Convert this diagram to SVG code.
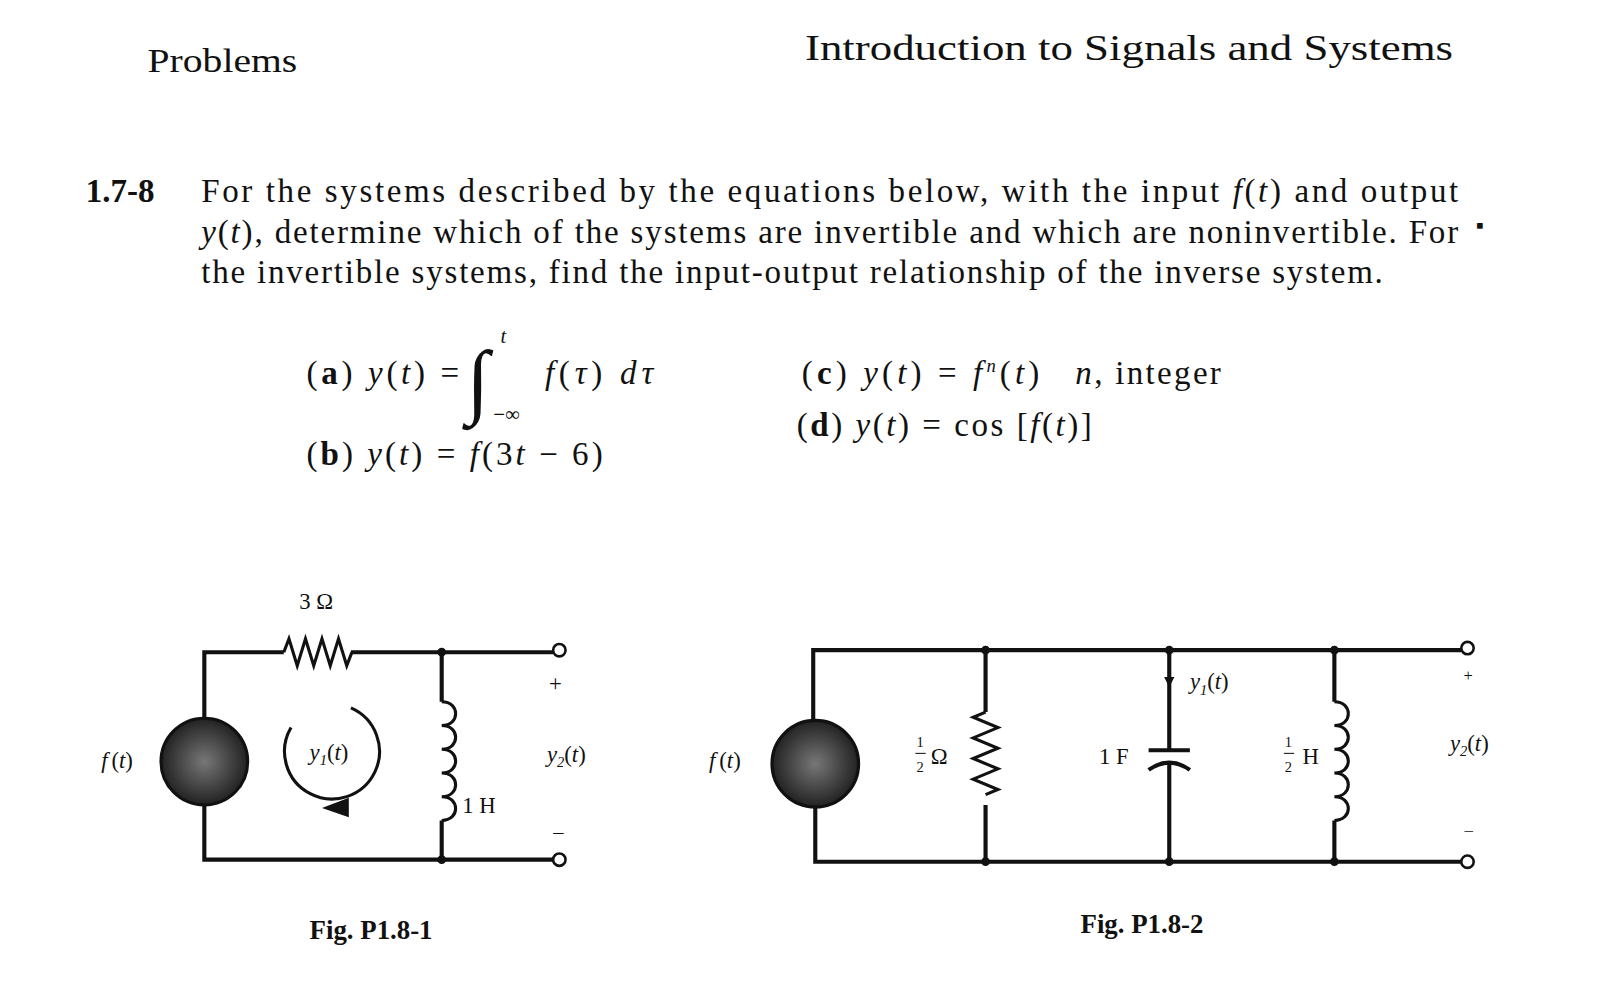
<svg xmlns="http://www.w3.org/2000/svg" width="1613" height="999" viewBox="0 0 1613 999">
<defs><style>
.t{font-family:"Liberation Serif",serif;fill:#111}
.w{stroke:#111;stroke-width:4;fill:none}
.th{stroke:#111;stroke-width:3;fill:none}
.i{font-style:italic}
.b{font-weight:bold}
</style>
<radialGradient id="g"><stop offset="0" stop-color="#777"/><stop offset="1" stop-color="#222"/></radialGradient>
</defs>
<rect width="1613" height="999" fill="#fff"/>
<g transform="scale(1.032)">
<text class="t" x="143" y="70" font-size="32" textLength="145" lengthAdjust="spacingAndGlyphs">Problems</text>
<text class="t" x="780" y="58" font-size="34" textLength="628" lengthAdjust="spacingAndGlyphs">Introduction to Signals and Systems</text>
<g class="t" font-size="32">
<text x="83" y="196" class="b">1.7-8</text>
<text x="195" y="196" textLength="1218">For the systems described by the equations below, with the input <tspan class="i">f</tspan>(<tspan class="i">t</tspan>) and output</text>
<text x="195" y="235" textLength="1218"><tspan class="i">y</tspan>(<tspan class="i">t</tspan>), determine which of the systems are invertible and which are noninvertible. For</text>
<text x="195" y="274" textLength="1145">the invertible systems, find the input-output relationship of the inverse system.</text>
<text x="1430" y="226" font-size="22">▪</text>
<text x="297" y="372" textLength="148">(<tspan class="b">a</tspan>) <tspan class="i">y</tspan>(<tspan class="i">t</tspan>) =</text>
<text x="452" y="395" font-size="80" class="i">∫</text>
<text x="485" y="332" font-size="20" class="i">t</text>
<text x="478" y="408" font-size="20">−∞</text>
<text x="528" y="372" textLength="105"><tspan class="i">f</tspan>(<tspan class="i">τ</tspan>) <tspan class="i">dτ</tspan></text>
<text x="297" y="451" textLength="287">(<tspan class="b">b</tspan>) <tspan class="i">y</tspan>(<tspan class="i">t</tspan>) = <tspan class="i">f</tspan>(3<tspan class="i">t</tspan> − 6)</text>
<text x="777" y="372" textLength="230">(<tspan class="b">c</tspan>) <tspan class="i">y</tspan>(<tspan class="i">t</tspan>) = <tspan class="i">f</tspan><tspan font-size="18" dy="-12" class="i">n</tspan><tspan dy="12">(<tspan class="i">t</tspan>)</tspan></text>
<text x="1042" y="372" textLength="141"><tspan class="i">n</tspan>, integer</text>
<text x="772" y="422" textLength="286">(<tspan class="b">d</tspan>) <tspan class="i">y</tspan>(<tspan class="i">t</tspan>) = cos [<tspan class="i">f</tspan>(<tspan class="i">t</tspan>)]</text>
</g>
<g id="conn">
<path class="w" d="M198,696V632H275M340,632H536M198,780V833H536M428,632V680M428,795V833"/>
<path class="th" d="M275,632l5,-13l8,26l8,-26l8,26l8,-26l8,26l8,-26l8,26l5,-13"/>
<path class="th" d="M428,680c18,0 18,23 0,23c18,0 18,23 0,23c18,0 18,23 0,23c18,0 18,23 0,23c18,0 18,23 0,23"/>
<path class="th" d="M282,705A46,46 0 1 0 340,686"/>
<path d="M312,783l26,-10v19z" fill="#111"/>
<path class="w" d="M788,700V630H1416M790,782V835H1416M955,630V690M955,780V835M1133,630V727M1133,738V835M1293,630V680M1293,795V835"/>
<path class="th" d="M955,690l-12,5l24,10l-24,10l24,10l-24,10l24,10l-24,10l24,10l-12,5"/>
<path class="w" d="M1113,727H1153M1113,746Q1133,732 1153,746"/>
<path class="th" d="M1293,680c18,0 18,23 0,23c18,0 18,23 0,23c18,0 18,23 0,23c18,0 18,23 0,23c18,0 18,23 0,23"/>
<path d="M1128,656h10l-5,10z" fill="#111"/>
</g>
<g id="src1"><circle cx="198" cy="738" r="42" fill="url(#g)" stroke="#111" stroke-width="3"/></g>
<g id="src2"><circle cx="790" cy="740" r="42" fill="url(#g)" stroke="#111" stroke-width="3"/></g>
<g id="terms" fill="#fff" stroke="#111" stroke-width="2.5">
<circle cx="542" cy="630" r="6"/><circle cx="542" cy="833" r="6"/>
<circle cx="1422" cy="628" r="6"/><circle cx="1422" cy="835" r="6"/>
<circle cx="428" cy="632" r="3" fill="#111"/><circle cx="428" cy="833" r="3" fill="#111"/>
<circle cx="955" cy="630" r="3" fill="#111"/><circle cx="1133" cy="630" r="3" fill="#111"/><circle cx="1293" cy="630" r="3" fill="#111"/>
<circle cx="955" cy="835" r="3" fill="#111"/><circle cx="1133" cy="835" r="3" fill="#111"/><circle cx="1293" cy="835" r="3" fill="#111"/>
</g>
<g class="t" font-size="22">
<text x="290" y="590">3 Ω</text>
<text x="98" y="744" class="i">f</text><text x="108" y="744">(<tspan class="i">t</tspan>)</text>
<text x="300" y="736" class="i">y<tspan font-size="14" dy="5">1</tspan><tspan dy="-5" font-style="normal">(<tspan class="i">t</tspan>)</tspan></text>
<text x="448" y="788">1 H</text>
<text x="532" y="670">+</text>
<text x="530" y="738" class="i">y<tspan font-size="14" dy="5">2</tspan><tspan dy="-5" font-style="normal">(<tspan class="i">t</tspan>)</tspan></text>
<text x="535" y="815">−</text>
<text x="687" y="744" class="i">f</text><text x="697" y="744">(<tspan class="i">t</tspan>)</text>
<text x="888" y="724" font-size="14">1</text><text x="888" y="748" font-size="14">2</text><path d="M887,730h10" stroke="#111"/>
<text x="902" y="740">Ω</text>
<text x="1065" y="740">1 F</text>
<text x="1153" y="668" class="i">y<tspan font-size="14" dy="5">1</tspan><tspan dy="-5" font-style="normal">(<tspan class="i">t</tspan>)</tspan></text>
<text x="1245" y="724" font-size="14">1</text><text x="1245" y="748" font-size="14">2</text><path d="M1244,730h10" stroke="#111"/>
<text x="1262" y="740">H</text>
<text x="1418" y="660" font-size="16">+</text>
<text x="1405" y="728" class="i">y<tspan font-size="14" dy="5">2</tspan><tspan dy="-5" font-style="normal">(<tspan class="i">t</tspan>)</tspan></text>
<text x="1418" y="812" font-size="18">−</text>
<text x="300" y="910" font-size="26" class="b">Fig.  P1.8-1</text>
<text x="1047" y="904" font-size="26" class="b">Fig.  P1.8-2</text>
</g>
</g>
</svg>
